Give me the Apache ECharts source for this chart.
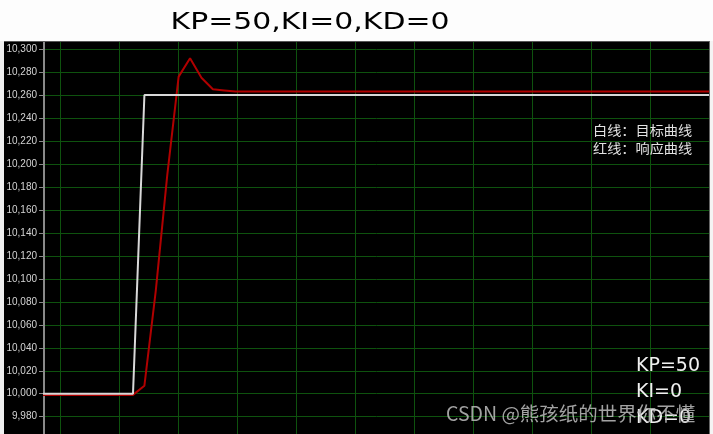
<!DOCTYPE html>
<html><head><meta charset="utf-8">
<script src="https://cdn.jsdelivr.net/npm/echarts@6/dist/echarts.min.js"></script>
<style>html,body{margin:0;padding:0;background:#fff}#c{width:713px;height:434px}</style>
</head><body><div id="c"></div><script>
// ---- data ----
const titleText = 'KP=50,KI=0,KD=0';
const legendLines = ['白线：目标曲线', '红线：响应曲线'];
const noteLines = ['KP=50', 'KI=0', 'KD=0'];
const watermarkText = 'CSDN @熊孩纸的世界你不懂';
// target (white) curve, one value per sample
const targetLine = [
  10000,10000,10000,10000,10000,10000,10000,10000,10000,
  10260,10260,10260,10260,10260,10260,10260,10260,10260,10260,
  10260,10260,10260,10260,10260,10260,10260,10260,10260,10260,
  10260,10260,10260,10260,10260,10260,10260,10260,10260,10260,
  10260,10260,10260,10260,10260,10260,10260,10260,10260,10260,
  10260,10260,10260,10260,10260,10260,10260,10260,10260,10260,10260
];
// response (red) curve
const responseLine = [
  9999,9999,9999,9999,9999,9999,9999,9999,9999,
  10007,10090,10190,10276,10292,10275,10265,10264,
  10263,10263,10263,10263,10263,10263,10263,10263,10263,10263,
  10263,10263,10263,10263,10263,10263,10263,10263,10263,10263,
  10263,10263,10263,10263,10263,10263,10263,10263,10263,10263,
  10263,10263,10263,10263,10263,10263,10263,10263,10263,10263,10263,10263,10263
];
const yMin = 9960, yMax = 10307, yStep = 20;
const xMin = 0.2, xMax = 58.48;
const gridMin = 0, gridMax = 55, gridStep = 5;

const chart = echarts.init(document.getElementById('c'), null, {renderer: 'canvas'});
const greenGrid = {color: '#0e520e', width: 1};
const option = {
  backgroundColor: '#000',
  animation: false,
  grid: [
    {left: 44, top: 41, width: 665, height: 398.7, outerBoundsMode: 'none', containLabel: false},
    {left: 60, top: 41, width: 649, height: 398.7, outerBoundsMode: 'none', containLabel: false}
  ],
  xAxis: [
    {type: 'value', gridIndex: 0, min: xMin, max: xMax,
     axisLine: {show: false}, axisTick: {show: false}, axisLabel: {show: false}, splitLine: {show: false}},
    {type: 'value', gridIndex: 1, min: gridMin, max: gridMax, interval: gridStep,
     axisLine: {show: false}, axisTick: {show: false}, axisLabel: {show: false},
     splitLine: {show: true, lineStyle: greenGrid}}
  ],
  yAxis: [
    {type: 'value', gridIndex: 0, min: yMin, max: yMax, interval: yStep,
     axisLine: {show: true, lineStyle: {color: '#8a8a8a', width: 2}},
     axisTick: {show: true, length: 5, lineStyle: {color: '#8a8a8a', width: 1}},
     axisLabel: {show: true, color: '#d4d4d4', fontSize: 10, fontFamily: 'Liberation Sans, Arial', margin: 7, showMaxLabel: false},
     splitLine: {show: true, lineStyle: greenGrid}},
    {type: 'value', gridIndex: 1, min: yMin, max: yMax, show: false, splitLine: {show: false}}
  ],
  series: [
    {type: 'line', xAxisIndex: 0, yAxisIndex: 0, symbol: 'none',
     lineStyle: {color: '#b00000', width: 2},
     data: responseLine.map((v, i) => [i, v])},
    {type: 'line', xAxisIndex: 0, yAxisIndex: 0, symbol: 'none',
     lineStyle: {color: '#d8d8d8', width: 2},
     data: targetLine.map((v, i) => [i, v])}
  ],
  graphic: [
    {type: 'rect', z: 50, shape: {x: 0, y: 0, width: 713, height: 41}, style: {fill: '#fdfdfd'}},
    {type: 'rect', z: 50, shape: {x: 0, y: 41, width: 4, height: 393}, style: {fill: '#efefef'}},
    {type: 'rect', z: 50, shape: {x: 710, y: 41, width: 3, height: 393}, style: {fill: '#f4f4f4'}},
    {type: 'line', z: 51, shape: {x1: 4, y1: 41.5, x2: 710, y2: 41.5}, style: {stroke: '#555', lineWidth: 1}},
    {type: 'line', z: 51, shape: {x1: 709.5, y1: 41, x2: 709.5, y2: 434}, style: {stroke: '#666', lineWidth: 1}},
    {type: 'text', z: 100, x: 310, y: 23, scaleX: 1.3,
     style: {text: titleText, fill: '#000', font: '23px "DejaVu Sans"', textAlign: 'center', textVerticalAlign: 'middle'}},
    {type: 'text', z: 100, x: 593, y: 130, scaleX: 1.09,
     style: {text: legendLines[0], fill: '#e2e2e2', font: '13px "Noto Sans CJK SC"', textAlign: 'left', textVerticalAlign: 'middle'}},
    {type: 'text', z: 100, x: 593, y: 148, scaleX: 1.09,
     style: {text: legendLines[1], fill: '#e2e2e2', font: '13px "Noto Sans CJK SC"', textAlign: 'left', textVerticalAlign: 'middle'}},
    {type: 'text', z: 100, x: 636, y: 366,
     style: {text: noteLines[0], fill: '#f0f0f0', font: '19px "DejaVu Sans"', textAlign: 'left', textVerticalAlign: 'middle'}},
    {type: 'text', z: 100, x: 636, y: 392,
     style: {text: noteLines[1], fill: '#f0f0f0', font: '19px "DejaVu Sans"', textAlign: 'left', textVerticalAlign: 'middle'}},
    {type: 'text', z: 100, x: 636, y: 418,
     style: {text: noteLines[2], fill: '#f0f0f0', font: '19px "DejaVu Sans"', textAlign: 'left', textVerticalAlign: 'middle'}},
    {type: 'text', z: 101, x: 446, y: 414,
     style: {text: watermarkText, fill: 'rgba(190,190,190,0.85)', font: '19.5px "Noto Sans CJK SC"', textAlign: 'left', textVerticalAlign: 'middle'}}
  ]
};
chart.setOption(option);
</script></body></html>
